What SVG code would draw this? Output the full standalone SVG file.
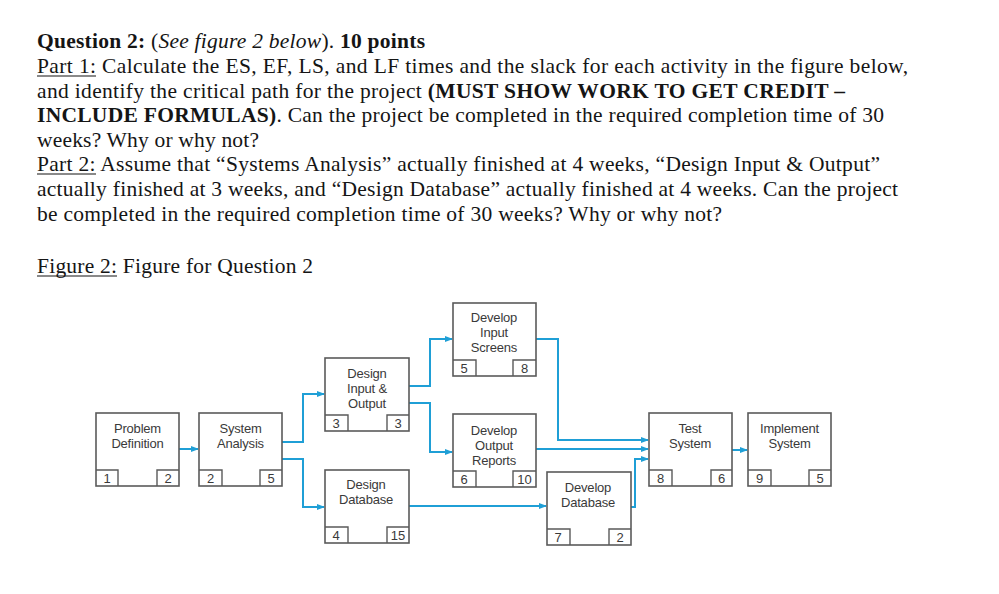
<svg xmlns="http://www.w3.org/2000/svg" width="999" height="594" viewBox="0 0 999 594">
<defs>
<style>
.q{font-family:"Liberation Serif","Times New Roman",serif;font-size:21.5px;fill:#151515}
.b{font-weight:bold}
.i{font-style:italic}
.ul{stroke:#151515;stroke-width:1.2}
.box{fill:#fff;stroke:#5a5a5a;stroke-width:1.6}
.cell{fill:none;stroke:#5a5a5a;stroke-width:1.4}
.lbl{font-family:"Liberation Sans",Arial,sans-serif;font-size:13px;fill:#3a3a3a;text-anchor:middle;letter-spacing:-0.2px}
.num{font-family:"Liberation Sans",Arial,sans-serif;font-size:13px;fill:#3a3a3a;text-anchor:middle}
.con{fill:none;stroke:#1f9fd6;stroke-width:2;marker-end:url(#ah)}
</style>
<marker id="ah" viewBox="0 0 8 6" refX="7" refY="3" markerWidth="8" markerHeight="6" markerUnits="userSpaceOnUse" orient="auto">
<path d="M0,0 L8,3 L0,6 z" fill="#1f9fd6"/>
</marker>
</defs>
<rect width="999" height="594" fill="#fff"/>
<g id="question">
<text class="q" x="37" y="48" textLength="388" lengthAdjust="spacing"><tspan class="b">Question 2:</tspan> (<tspan class="i">See figure 2 below</tspan>). <tspan class="b">10 points</tspan></text>
<text class="q" x="37" y="73" textLength="871" lengthAdjust="spacing">Part 1: Calculate the ES, EF, LS, and LF times and the slack for each activity in the figure below,</text>
<text class="q" x="37" y="97.5" textLength="808" lengthAdjust="spacing">and identify the critical path for the project <tspan class="b">(MUST SHOW WORK TO GET CREDIT –</tspan></text>
<text class="q" x="37" y="122" textLength="847" lengthAdjust="spacing"><tspan class="b">INCLUDE FORMULAS)</tspan>. Can the project be completed in the required completion time of 30</text>
<text class="q" x="37" y="146.5" textLength="222" lengthAdjust="spacing">weeks? Why or why not?</text>
<text class="q" x="37" y="171" textLength="843" lengthAdjust="spacing">Part 2: Assume that “Systems Analysis” actually finished at 4 weeks, “Design Input &amp; Output”</text>
<text class="q" x="37" y="196" textLength="861" lengthAdjust="spacing">actually finished at 3 weeks, and “Design Database” actually finished at 4 weeks. Can the project</text>
<text class="q" x="37" y="220.5" textLength="685" lengthAdjust="spacing">be completed in the required completion time of 30 weeks? Why or why not?</text>
<text class="q" x="37" y="273" textLength="276" lengthAdjust="spacing">Figure 2: Figure for Question 2</text>
<line class="ul" x1="37" y1="76" x2="96" y2="76"/>
<line class="ul" x1="37" y1="174" x2="96" y2="174"/>
<line class="ul" x1="37" y1="276" x2="117" y2="276"/>
</g>
<g id="connectors">
<path class="con" d="M179,449 H198"/>
<path class="con" d="M282,442 H303 V394 H324"/>
<path class="con" d="M282,459 H303 V507 H324"/>
<path class="con" d="M409,386 H430 V339 H452"/>
<path class="con" d="M409,403 H430 V452 H452"/>
<path class="con" d="M409,506 H546"/>
<path class="con" d="M536,339 H558 V440 H648"/>
<path class="con" d="M536,449 H648"/>
<path class="con" d="M631,507 H635 V459 H648"/>
<path class="con" d="M732,450 H747"/>
</g>
<g id="problem-definition">
<rect class="box" x="96" y="413" width="83" height="73"/>
<path class="cell" d="M96,470 H118 V486 M179,470 H157 V486"/>
<text class="lbl" x="137.5" y="432.5">Problem</text>
<text class="lbl" x="137.5" y="447.5">Definition</text>
<text class="num" x="107" y="483">1</text>
<text class="num" x="168" y="483">2</text>
</g>
<g id="system-analysis">
<rect class="box" x="199" y="413" width="83" height="73"/>
<path class="cell" d="M199,470 H222 V486 M282,470 H260 V486"/>
<text class="lbl" x="240.5" y="433">System</text>
<text class="lbl" x="240.5" y="448">Analysis</text>
<text class="num" x="210.5" y="483">2</text>
<text class="num" x="271" y="483">5</text>
</g>
<g id="design-input-output">
<rect class="box" x="325" y="358" width="84" height="73"/>
<path class="cell" d="M325,415 H348 V431 M409,415 H387 V431"/>
<text class="lbl" x="367" y="378">Design</text>
<text class="lbl" x="367" y="393">Input &amp;</text>
<text class="lbl" x="367" y="408">Output</text>
<text class="num" x="336" y="428">3</text>
<text class="num" x="398" y="428">3</text>
</g>
<g id="design-database">
<rect class="box" x="325" y="470" width="84" height="73"/>
<path class="cell" d="M325,527 H348 V543 M409,527 H387 V543"/>
<text class="lbl" x="366" y="488.5">Design</text>
<text class="lbl" x="366" y="504">Database</text>
<text class="num" x="336" y="540">4</text>
<text class="num" x="398" y="540">15</text>
</g>
<g id="develop-input-screens">
<rect class="box" x="453" y="303" width="83" height="73"/>
<path class="cell" d="M453,360 H476 V376 M536,360 H513 V376"/>
<text class="lbl" x="494" y="322">Develop</text>
<text class="lbl" x="494" y="337">Input</text>
<text class="lbl" x="494" y="352">Screens</text>
<text class="num" x="464" y="373">5</text>
<text class="num" x="524.5" y="373">8</text>
</g>
<g id="develop-output-reports">
<rect class="box" x="453" y="414" width="83" height="73"/>
<path class="cell" d="M453,471 H476 V487 M536,471 H513 V487"/>
<text class="lbl" x="494" y="435">Develop</text>
<text class="lbl" x="494" y="450">Output</text>
<text class="lbl" x="494" y="465">Reports</text>
<text class="num" x="464" y="484">6</text>
<text class="num" x="524.5" y="484">10</text>
</g>
<g id="develop-database">
<rect class="box" x="547" y="472" width="84" height="73"/>
<path class="cell" d="M547,529 H570 V545 M631,529 H609 V545"/>
<text class="lbl" x="588" y="492">Develop</text>
<text class="lbl" x="588" y="507">Database</text>
<text class="num" x="558" y="542">7</text>
<text class="num" x="620" y="542">2</text>
</g>
<g id="test-system">
<rect class="box" x="649" y="413" width="83" height="73"/>
<path class="cell" d="M649,470 H672 V486 M732,470 H711 V486"/>
<text class="lbl" x="690" y="432.5">Test</text>
<text class="lbl" x="690" y="447.5">System</text>
<text class="num" x="660.5" y="483">8</text>
<text class="num" x="721.5" y="483">6</text>
</g>
<g id="implement-system">
<rect class="box" x="748" y="413" width="83" height="73"/>
<path class="cell" d="M748,470 H771 V486 M831,470 H809 V486"/>
<text class="lbl" x="789.5" y="432.5">Implement</text>
<text class="lbl" x="789.5" y="447.5">System</text>
<text class="num" x="759.5" y="483">9</text>
<text class="num" x="820" y="483">5</text>
</g>
</svg>
